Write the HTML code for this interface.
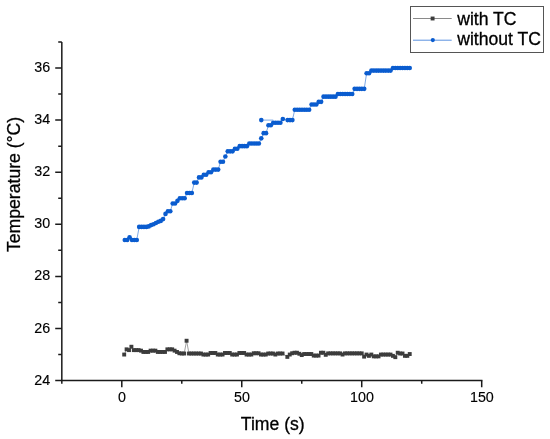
<!DOCTYPE html><html><head><meta charset="utf-8"><style>
html,body{margin:0;padding:0;background:#fff;}
svg{display:block;font-family:"Liberation Sans",Arial,sans-serif;}
</style></head><body>
<svg width="550" height="439" viewBox="0 0 550 439">
<rect width="550" height="439" fill="#fff"/>
<polyline points="124.2,354.55 126.6,349.34 129,350.12 131.4,346.74 133.8,350.12 136.2,350.12 138.6,350.12 140.99,350.64 143.39,351.94 145.79,351.94 148.19,351.94 150.59,350.64 152.99,350.64 155.39,350.64 157.79,351.94 160.19,351.94 162.59,351.94 164.99,351.94 167.39,349.34 169.79,349.34 172.19,349.34 174.58,350.64 176.98,351.94 179.38,353.25 181.78,353.51 184.18,353.51 186.58,340.74 188.98,353.51 191.38,353.51 193.78,353.51 196.18,353.51 198.58,353.51 200.98,353.51 203.38,354.55 205.78,354.55 208.17,354.55 210.57,352.99 212.97,352.99 215.37,352.99 217.77,354.55 220.17,354.55 222.57,354.55 224.97,352.99 227.37,352.99 229.77,352.99 232.17,354.55 234.57,354.55 236.97,354.55 239.37,352.99 241.76,352.99 244.16,352.99 246.56,354.55 248.96,354.55 251.36,354.55 253.76,353.25 256.16,353.25 258.56,353.25 260.96,354.55 263.36,354.55 265.76,354.55 268.16,353.51 270.56,353.51 272.96,353.51 275.36,354.55 277.75,353.51 280.15,353.51 282.55,353.51 287.35,356.89 289.75,354.55 292.15,353.25 294.55,352.73 296.95,352.73 299.35,353.77 301.75,355.07 304.15,354.03 306.55,354.03 308.95,354.03 311.34,354.03 313.74,355.59 316.14,355.59 318.54,355.59 320.94,352.73 323.34,352.73 325.74,354.81 328.14,353.38 330.54,353.38 332.94,353.38 335.34,353.38 337.74,353.38 340.14,353.38 342.54,354.55 344.93,353.38 347.33,353.38 349.73,353.38 352.13,353.38 354.53,353.38 356.93,353.38 359.33,353.38 361.73,353.38 364.13,356.63 366.53,354.55 368.93,355.85 371.33,354.55 373.73,356.37 376.13,356.37 378.53,356.37 380.92,354.55 383.32,354.55 385.72,354.55 388.12,354.55 390.52,354.55 392.92,355.85 395.32,357.16 397.72,352.73 400.12,353.51 402.52,353.51 404.92,355.85 407.32,355.85 409.72,354.03" fill="none" stroke="#8a8a8a" stroke-width="0.8"/>
<polyline points="124.79,239.93 127.19,239.93 129.58,237.33 131.98,239.93 134.37,239.93 136.77,239.93 139.16,226.91 141.55,226.91 143.95,226.91 146.34,226.91 148.74,226.38 151.13,225.08 153.53,224.3 155.92,223 158.31,221.69 160.71,220.91 163.1,219.09 165.5,213.88 167.89,211.28 170.29,211.28 172.68,203.46 175.07,203.46 177.47,200.86 179.86,198.25 182.26,198.25 184.65,198.25 187.05,193.04 189.44,193.04 191.83,193.04 194.23,182.62 196.62,182.62 199.02,177.41 201.41,177.41 203.81,174.81 206.2,174.81 208.59,172.2 210.99,172.2 213.38,169.59 215.78,169.59 218.17,169.59 220.57,161.78 222.96,161.78 225.35,156.57 227.75,151.36 230.14,151.36 232.54,151.36 234.93,148.76 237.33,148.76 239.72,146.15 242.11,146.15 244.51,146.15 246.9,146.15 249.3,143.54 251.69,143.54 254.09,143.54 256.48,143.54 258.88,143.54 261.27,138.34 263.66,133.13 266.06,133.13 268.45,125.31 270.85,125.31 273.24,122.71 275.64,122.71 278.03,122.71 280.42,122.71 282.82,119.06 287.61,120.1 290,120.1 292.4,120.1 294.79,109.68 297.18,109.68 299.58,109.68 301.97,109.68 304.37,109.68 306.76,109.68 309.16,109.68 311.55,104.47 313.94,104.47 316.34,104.47 318.73,101.86 321.13,101.86 323.52,96.66 325.92,96.66 328.31,96.66 330.7,96.66 333.1,96.66 335.49,96.66 337.89,94.05 340.28,94.05 342.68,94.05 345.07,94.05 347.46,94.05 349.86,94.05 352.25,94.05 354.65,88.84 357.04,88.84 359.44,88.84 361.83,88.84 364.22,88.84 366.62,73.21 369.01,73.21 371.41,70.61 373.8,70.61 376.2,70.61 378.59,70.61 380.98,70.61 383.38,70.61 385.77,70.61 388.17,70.61 390.56,70.61 392.96,68 395.35,68 397.74,68 400.14,68 402.53,68 404.93,68 407.32,68 409.72,68" fill="none" stroke="#5b92e0" stroke-width="0.8"/>
<polyline points="261.27,120.1 273.24,120.1" fill="none" stroke="#5b92e0" stroke-width="0.8"/>
<g fill="#3c3c3c">
<rect x="122.25" y="352.6" width="3.9" height="3.9"/>
<rect x="124.65" y="347.39" width="3.9" height="3.9"/>
<rect x="127.05" y="348.17" width="3.9" height="3.9"/>
<rect x="129.45" y="344.79" width="3.9" height="3.9"/>
<rect x="131.85" y="348.17" width="3.9" height="3.9"/>
<rect x="134.25" y="348.17" width="3.9" height="3.9"/>
<rect x="136.65" y="348.17" width="3.9" height="3.9"/>
<rect x="139.04" y="348.69" width="3.9" height="3.9"/>
<rect x="141.44" y="350" width="3.9" height="3.9"/>
<rect x="143.84" y="350" width="3.9" height="3.9"/>
<rect x="146.24" y="350" width="3.9" height="3.9"/>
<rect x="148.64" y="348.69" width="3.9" height="3.9"/>
<rect x="151.04" y="348.69" width="3.9" height="3.9"/>
<rect x="153.44" y="348.69" width="3.9" height="3.9"/>
<rect x="155.84" y="350" width="3.9" height="3.9"/>
<rect x="158.24" y="350" width="3.9" height="3.9"/>
<rect x="160.64" y="350" width="3.9" height="3.9"/>
<rect x="163.04" y="350" width="3.9" height="3.9"/>
<rect x="165.44" y="347.39" width="3.9" height="3.9"/>
<rect x="167.84" y="347.39" width="3.9" height="3.9"/>
<rect x="170.24" y="347.39" width="3.9" height="3.9"/>
<rect x="172.63" y="348.69" width="3.9" height="3.9"/>
<rect x="175.03" y="350" width="3.9" height="3.9"/>
<rect x="177.43" y="351.3" width="3.9" height="3.9"/>
<rect x="179.83" y="351.56" width="3.9" height="3.9"/>
<rect x="182.23" y="351.56" width="3.9" height="3.9"/>
<rect x="184.63" y="338.79" width="3.9" height="3.9"/>
<rect x="187.03" y="351.56" width="3.9" height="3.9"/>
<rect x="189.43" y="351.56" width="3.9" height="3.9"/>
<rect x="191.83" y="351.56" width="3.9" height="3.9"/>
<rect x="194.23" y="351.56" width="3.9" height="3.9"/>
<rect x="196.63" y="351.56" width="3.9" height="3.9"/>
<rect x="199.03" y="351.56" width="3.9" height="3.9"/>
<rect x="201.43" y="352.6" width="3.9" height="3.9"/>
<rect x="203.83" y="352.6" width="3.9" height="3.9"/>
<rect x="206.22" y="352.6" width="3.9" height="3.9"/>
<rect x="208.62" y="351.04" width="3.9" height="3.9"/>
<rect x="211.02" y="351.04" width="3.9" height="3.9"/>
<rect x="213.42" y="351.04" width="3.9" height="3.9"/>
<rect x="215.82" y="352.6" width="3.9" height="3.9"/>
<rect x="218.22" y="352.6" width="3.9" height="3.9"/>
<rect x="220.62" y="352.6" width="3.9" height="3.9"/>
<rect x="223.02" y="351.04" width="3.9" height="3.9"/>
<rect x="225.42" y="351.04" width="3.9" height="3.9"/>
<rect x="227.82" y="351.04" width="3.9" height="3.9"/>
<rect x="230.22" y="352.6" width="3.9" height="3.9"/>
<rect x="232.62" y="352.6" width="3.9" height="3.9"/>
<rect x="235.02" y="352.6" width="3.9" height="3.9"/>
<rect x="237.42" y="351.04" width="3.9" height="3.9"/>
<rect x="239.81" y="351.04" width="3.9" height="3.9"/>
<rect x="242.21" y="351.04" width="3.9" height="3.9"/>
<rect x="244.61" y="352.6" width="3.9" height="3.9"/>
<rect x="247.01" y="352.6" width="3.9" height="3.9"/>
<rect x="249.41" y="352.6" width="3.9" height="3.9"/>
<rect x="251.81" y="351.3" width="3.9" height="3.9"/>
<rect x="254.21" y="351.3" width="3.9" height="3.9"/>
<rect x="256.61" y="351.3" width="3.9" height="3.9"/>
<rect x="259.01" y="352.6" width="3.9" height="3.9"/>
<rect x="261.41" y="352.6" width="3.9" height="3.9"/>
<rect x="263.81" y="352.6" width="3.9" height="3.9"/>
<rect x="266.21" y="351.56" width="3.9" height="3.9"/>
<rect x="268.61" y="351.56" width="3.9" height="3.9"/>
<rect x="271.01" y="351.56" width="3.9" height="3.9"/>
<rect x="273.41" y="352.6" width="3.9" height="3.9"/>
<rect x="275.8" y="351.56" width="3.9" height="3.9"/>
<rect x="278.2" y="351.56" width="3.9" height="3.9"/>
<rect x="280.6" y="351.56" width="3.9" height="3.9"/>
<rect x="285.4" y="354.94" width="3.9" height="3.9"/>
<rect x="287.8" y="352.6" width="3.9" height="3.9"/>
<rect x="290.2" y="351.3" width="3.9" height="3.9"/>
<rect x="292.6" y="350.78" width="3.9" height="3.9"/>
<rect x="295" y="350.78" width="3.9" height="3.9"/>
<rect x="297.4" y="351.82" width="3.9" height="3.9"/>
<rect x="299.8" y="353.12" width="3.9" height="3.9"/>
<rect x="302.2" y="352.08" width="3.9" height="3.9"/>
<rect x="304.6" y="352.08" width="3.9" height="3.9"/>
<rect x="307" y="352.08" width="3.9" height="3.9"/>
<rect x="309.39" y="352.08" width="3.9" height="3.9"/>
<rect x="311.79" y="353.64" width="3.9" height="3.9"/>
<rect x="314.19" y="353.64" width="3.9" height="3.9"/>
<rect x="316.59" y="353.64" width="3.9" height="3.9"/>
<rect x="318.99" y="350.78" width="3.9" height="3.9"/>
<rect x="321.39" y="350.78" width="3.9" height="3.9"/>
<rect x="323.79" y="352.86" width="3.9" height="3.9"/>
<rect x="326.19" y="351.43" width="3.9" height="3.9"/>
<rect x="328.59" y="351.43" width="3.9" height="3.9"/>
<rect x="330.99" y="351.43" width="3.9" height="3.9"/>
<rect x="333.39" y="351.43" width="3.9" height="3.9"/>
<rect x="335.79" y="351.43" width="3.9" height="3.9"/>
<rect x="338.19" y="351.43" width="3.9" height="3.9"/>
<rect x="340.59" y="352.6" width="3.9" height="3.9"/>
<rect x="342.98" y="351.43" width="3.9" height="3.9"/>
<rect x="345.38" y="351.43" width="3.9" height="3.9"/>
<rect x="347.78" y="351.43" width="3.9" height="3.9"/>
<rect x="350.18" y="351.43" width="3.9" height="3.9"/>
<rect x="352.58" y="351.43" width="3.9" height="3.9"/>
<rect x="354.98" y="351.43" width="3.9" height="3.9"/>
<rect x="357.38" y="351.43" width="3.9" height="3.9"/>
<rect x="359.78" y="351.43" width="3.9" height="3.9"/>
<rect x="362.18" y="354.68" width="3.9" height="3.9"/>
<rect x="364.58" y="352.6" width="3.9" height="3.9"/>
<rect x="366.98" y="353.9" width="3.9" height="3.9"/>
<rect x="369.38" y="352.6" width="3.9" height="3.9"/>
<rect x="371.78" y="354.42" width="3.9" height="3.9"/>
<rect x="374.18" y="354.42" width="3.9" height="3.9"/>
<rect x="376.58" y="354.42" width="3.9" height="3.9"/>
<rect x="378.97" y="352.6" width="3.9" height="3.9"/>
<rect x="381.37" y="352.6" width="3.9" height="3.9"/>
<rect x="383.77" y="352.6" width="3.9" height="3.9"/>
<rect x="386.17" y="352.6" width="3.9" height="3.9"/>
<rect x="388.57" y="352.6" width="3.9" height="3.9"/>
<rect x="390.97" y="353.9" width="3.9" height="3.9"/>
<rect x="393.37" y="355.21" width="3.9" height="3.9"/>
<rect x="395.77" y="350.78" width="3.9" height="3.9"/>
<rect x="398.17" y="351.56" width="3.9" height="3.9"/>
<rect x="400.57" y="351.56" width="3.9" height="3.9"/>
<rect x="402.97" y="353.9" width="3.9" height="3.9"/>
<rect x="405.37" y="353.9" width="3.9" height="3.9"/>
<rect x="407.77" y="352.08" width="3.9" height="3.9"/>
</g>
<g fill="#0a5ccf">
<circle cx="124.79" cy="239.93" r="2.3"/>
<circle cx="127.19" cy="239.93" r="2.3"/>
<circle cx="129.58" cy="237.33" r="2.3"/>
<circle cx="131.98" cy="239.93" r="2.3"/>
<circle cx="134.37" cy="239.93" r="2.3"/>
<circle cx="136.77" cy="239.93" r="2.3"/>
<circle cx="139.16" cy="226.91" r="2.3"/>
<circle cx="141.55" cy="226.91" r="2.3"/>
<circle cx="143.95" cy="226.91" r="2.3"/>
<circle cx="146.34" cy="226.91" r="2.3"/>
<circle cx="148.74" cy="226.38" r="2.3"/>
<circle cx="151.13" cy="225.08" r="2.3"/>
<circle cx="153.53" cy="224.3" r="2.3"/>
<circle cx="155.92" cy="223" r="2.3"/>
<circle cx="158.31" cy="221.69" r="2.3"/>
<circle cx="160.71" cy="220.91" r="2.3"/>
<circle cx="163.1" cy="219.09" r="2.3"/>
<circle cx="165.5" cy="213.88" r="2.3"/>
<circle cx="167.89" cy="211.28" r="2.3"/>
<circle cx="170.29" cy="211.28" r="2.3"/>
<circle cx="172.68" cy="203.46" r="2.3"/>
<circle cx="175.07" cy="203.46" r="2.3"/>
<circle cx="177.47" cy="200.86" r="2.3"/>
<circle cx="179.86" cy="198.25" r="2.3"/>
<circle cx="182.26" cy="198.25" r="2.3"/>
<circle cx="184.65" cy="198.25" r="2.3"/>
<circle cx="187.05" cy="193.04" r="2.3"/>
<circle cx="189.44" cy="193.04" r="2.3"/>
<circle cx="191.83" cy="193.04" r="2.3"/>
<circle cx="194.23" cy="182.62" r="2.3"/>
<circle cx="196.62" cy="182.62" r="2.3"/>
<circle cx="199.02" cy="177.41" r="2.3"/>
<circle cx="201.41" cy="177.41" r="2.3"/>
<circle cx="203.81" cy="174.81" r="2.3"/>
<circle cx="206.2" cy="174.81" r="2.3"/>
<circle cx="208.59" cy="172.2" r="2.3"/>
<circle cx="210.99" cy="172.2" r="2.3"/>
<circle cx="213.38" cy="169.59" r="2.3"/>
<circle cx="215.78" cy="169.59" r="2.3"/>
<circle cx="218.17" cy="169.59" r="2.3"/>
<circle cx="220.57" cy="161.78" r="2.3"/>
<circle cx="222.96" cy="161.78" r="2.3"/>
<circle cx="225.35" cy="156.57" r="2.3"/>
<circle cx="227.75" cy="151.36" r="2.3"/>
<circle cx="230.14" cy="151.36" r="2.3"/>
<circle cx="232.54" cy="151.36" r="2.3"/>
<circle cx="234.93" cy="148.76" r="2.3"/>
<circle cx="237.33" cy="148.76" r="2.3"/>
<circle cx="239.72" cy="146.15" r="2.3"/>
<circle cx="242.11" cy="146.15" r="2.3"/>
<circle cx="244.51" cy="146.15" r="2.3"/>
<circle cx="246.9" cy="146.15" r="2.3"/>
<circle cx="249.3" cy="143.54" r="2.3"/>
<circle cx="251.69" cy="143.54" r="2.3"/>
<circle cx="254.09" cy="143.54" r="2.3"/>
<circle cx="256.48" cy="143.54" r="2.3"/>
<circle cx="258.88" cy="143.54" r="2.3"/>
<circle cx="261.27" cy="138.34" r="2.3"/>
<circle cx="263.66" cy="133.13" r="2.3"/>
<circle cx="266.06" cy="133.13" r="2.3"/>
<circle cx="268.45" cy="125.31" r="2.3"/>
<circle cx="270.85" cy="125.31" r="2.3"/>
<circle cx="273.24" cy="122.71" r="2.3"/>
<circle cx="275.64" cy="122.71" r="2.3"/>
<circle cx="278.03" cy="122.71" r="2.3"/>
<circle cx="280.42" cy="122.71" r="2.3"/>
<circle cx="282.82" cy="119.06" r="2.3"/>
<circle cx="287.61" cy="120.1" r="2.3"/>
<circle cx="290" cy="120.1" r="2.3"/>
<circle cx="292.4" cy="120.1" r="2.3"/>
<circle cx="294.79" cy="109.68" r="2.3"/>
<circle cx="297.18" cy="109.68" r="2.3"/>
<circle cx="299.58" cy="109.68" r="2.3"/>
<circle cx="301.97" cy="109.68" r="2.3"/>
<circle cx="304.37" cy="109.68" r="2.3"/>
<circle cx="306.76" cy="109.68" r="2.3"/>
<circle cx="309.16" cy="109.68" r="2.3"/>
<circle cx="311.55" cy="104.47" r="2.3"/>
<circle cx="313.94" cy="104.47" r="2.3"/>
<circle cx="316.34" cy="104.47" r="2.3"/>
<circle cx="318.73" cy="101.86" r="2.3"/>
<circle cx="321.13" cy="101.86" r="2.3"/>
<circle cx="323.52" cy="96.66" r="2.3"/>
<circle cx="325.92" cy="96.66" r="2.3"/>
<circle cx="328.31" cy="96.66" r="2.3"/>
<circle cx="330.7" cy="96.66" r="2.3"/>
<circle cx="333.1" cy="96.66" r="2.3"/>
<circle cx="335.49" cy="96.66" r="2.3"/>
<circle cx="337.89" cy="94.05" r="2.3"/>
<circle cx="340.28" cy="94.05" r="2.3"/>
<circle cx="342.68" cy="94.05" r="2.3"/>
<circle cx="345.07" cy="94.05" r="2.3"/>
<circle cx="347.46" cy="94.05" r="2.3"/>
<circle cx="349.86" cy="94.05" r="2.3"/>
<circle cx="352.25" cy="94.05" r="2.3"/>
<circle cx="354.65" cy="88.84" r="2.3"/>
<circle cx="357.04" cy="88.84" r="2.3"/>
<circle cx="359.44" cy="88.84" r="2.3"/>
<circle cx="361.83" cy="88.84" r="2.3"/>
<circle cx="364.22" cy="88.84" r="2.3"/>
<circle cx="366.62" cy="73.21" r="2.3"/>
<circle cx="369.01" cy="73.21" r="2.3"/>
<circle cx="371.41" cy="70.61" r="2.3"/>
<circle cx="373.8" cy="70.61" r="2.3"/>
<circle cx="376.2" cy="70.61" r="2.3"/>
<circle cx="378.59" cy="70.61" r="2.3"/>
<circle cx="380.98" cy="70.61" r="2.3"/>
<circle cx="383.38" cy="70.61" r="2.3"/>
<circle cx="385.77" cy="70.61" r="2.3"/>
<circle cx="388.17" cy="70.61" r="2.3"/>
<circle cx="390.56" cy="70.61" r="2.3"/>
<circle cx="392.96" cy="68" r="2.3"/>
<circle cx="395.35" cy="68" r="2.3"/>
<circle cx="397.74" cy="68" r="2.3"/>
<circle cx="400.14" cy="68" r="2.3"/>
<circle cx="402.53" cy="68" r="2.3"/>
<circle cx="404.93" cy="68" r="2.3"/>
<circle cx="407.32" cy="68" r="2.3"/>
<circle cx="409.72" cy="68" r="2.3"/>
<circle cx="261.27" cy="120.1" r="2.3"/>
</g>
<g stroke="#1a1a1a" stroke-width="1.5" fill="none" stroke-linecap="butt">
<path d="M61.82,383.8 V41.95"/>
<path d="M55.22,380.6 H482.45"/>
<path d="M58.22,354.55 H61.82 M55.22,328.5 H61.82 M58.22,302.45 H61.82 M55.22,276.4 H61.82 M58.22,250.35 H61.82 M55.22,224.3 H61.82 M58.22,198.25 H61.82 M55.22,172.2 H61.82 M58.22,146.15 H61.82 M55.22,120.1 H61.82 M58.22,94.05 H61.82 M55.22,68 H61.82 M58.22,41.95 H61.82 M121.8,380.6 V387.2 M181.78,380.6 V383.8 M241.76,380.6 V387.2 M301.75,380.6 V383.8 M361.73,380.6 V387.2 M421.71,380.6 V383.8 M481.7,380.6 V387.2"/>
</g>
<g font-size="15.2" fill="#000" stroke="#000" stroke-width="0.15" text-anchor="end">
<text x="50.1" y="384.6" textLength="15.9" lengthAdjust="spacingAndGlyphs">24</text>
<text x="50.1" y="332.5" textLength="15.9" lengthAdjust="spacingAndGlyphs">26</text>
<text x="50.1" y="280.4" textLength="15.9" lengthAdjust="spacingAndGlyphs">28</text>
<text x="50.1" y="228.3" textLength="15.9" lengthAdjust="spacingAndGlyphs">30</text>
<text x="50.1" y="176.2" textLength="15.9" lengthAdjust="spacingAndGlyphs">32</text>
<text x="50.1" y="124.1" textLength="15.9" lengthAdjust="spacingAndGlyphs">34</text>
<text x="50.1" y="72" textLength="15.9" lengthAdjust="spacingAndGlyphs">36</text>
</g>
<g font-size="15.2" fill="#000" stroke="#000" stroke-width="0.15" text-anchor="middle">
<text x="122" y="402.2" textLength="7.95" lengthAdjust="spacingAndGlyphs">0</text>
<text x="241.96" y="402.2" textLength="15.9" lengthAdjust="spacingAndGlyphs">50</text>
<text x="361.93" y="402.2" textLength="23.85" lengthAdjust="spacingAndGlyphs">100</text>
<text x="481.9" y="402.2" textLength="23.85" lengthAdjust="spacingAndGlyphs">150</text>
</g>
<text x="272.8" y="429.5" font-size="17.6" fill="#000" stroke="#000" stroke-width="0.3" text-anchor="middle">Time (s)</text>
<text transform="translate(19.8,184.4) rotate(-90)" font-size="17.6" fill="#000" stroke="#000" stroke-width="0.3" text-anchor="middle">Temperature (°C)</text>
<rect x="410.5" y="6.5" width="133" height="46" fill="#fff" stroke="#555" stroke-width="1"/>
<line x1="413" y1="18.5" x2="451.7" y2="18.5" stroke="#8a8a8a" stroke-width="1"/>
<rect x="430.65" y="16.55" width="3.9" height="3.9" fill="#3c3c3c"/>
<line x1="413" y1="40.2" x2="451.7" y2="40.2" stroke="#5b92e0" stroke-width="1"/>
<circle cx="432.8" cy="40.1" r="2.1" fill="#0a5ccf"/>
<g font-size="17.6" fill="#000" stroke="#000" stroke-width="0.3">
<text x="457.2" y="24.8">with TC</text>
<text x="457.2" y="45.2">without TC</text>
</g>
</svg></body></html>
